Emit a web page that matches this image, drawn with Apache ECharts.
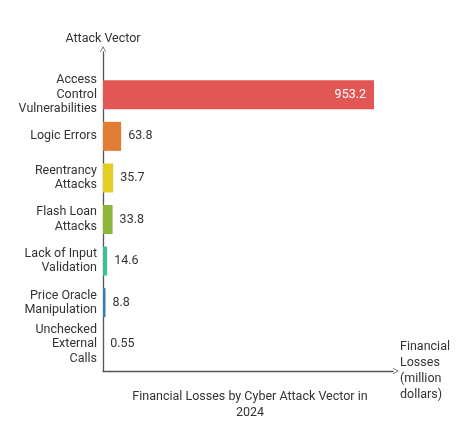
<!DOCTYPE html>
<html>
<head>
<meta charset="utf-8">
<script src="https://cdn.jsdelivr.net/npm/echarts@6/dist/echarts.min.js"></script>
<style>html,body{margin:0;padding:0;background:#fff}#c{width:474px;height:447px}</style>
</head>
<body>
<div id="c"></div>
<script>
const categories = ["Access\nControl\nVulnerabilities", "Logic Errors", "Reentrancy\nAttacks", "Flash Loan\nAttacks", "Lack of Input\nValidation", "Price Oracle\nManipulation", "Unchecked\nExternal\nCalls"];
const losses = [953.2, 63.8, 35.7, 33.8, 14.6, 8.8, 0.55];
const colors = ["#e25656", "#e07d33", "#e2cf22", "#8cb83a", "#3cc28f", "#2f7fb2", "#8e5bb8"];
const xAxisName = "Financial\nLosses\n(million\ndollars)";
const yAxisName = "Attack Vector";
const titleText = "Financial Losses by Cyber Attack Vector in\n2024";

const FONT = "Roboto";
const chevron = "path://M0,10 L5,0 L10,10 L8.8,10 L5,2.4 L1.2,10 Z";

const chart = echarts.init(document.getElementById('c'));
chart.setOption({
  animation: false,
  backgroundColor: '#fff',
  textStyle: { fontFamily: FONT },
  title: {
    text: titleText,
    left: 245, top: 384,
    textAlign: 'center',
    textStyle: { fontFamily: FONT, fontSize: 12.5, fontWeight: 'normal', color: '#333', lineHeight: 16 }
  },
  grid: [
    { left: 103, top: 74, width: 271, height: 291 },
    { left: 103, top: 52, width: 290, height: 319 }
  ],
  xAxis: [
    { gridIndex: 0, type: 'value', min: 0, max: 'dataMax', show: false },
    { gridIndex: 1, type: 'value', min: 0, max: 1,
      axisLine: { show: true, lineStyle: { color: '#555', width: 1.3 }, symbol: ['none', chevron], symbolSize: [9, 6], symbolOffset: [0, 3] },
      axisTick: { show: false }, axisLabel: { show: false }, splitLine: { show: false },
      name: xAxisName, nameLocation: 'end', nameGap: 7,
      nameTextStyle: { fontFamily: FONT, fontSize: 12.5, color: '#333', align: 'left', verticalAlign: 'middle', lineHeight: 16, padding: [2, 0, 0, 0] }
    }
  ],
  yAxis: [
    { gridIndex: 0, type: 'category', data: categories, inverse: true,
      axisLine: { show: false }, axisTick: { show: false }, splitLine: { show: false },
      axisLabel: { fontFamily: FONT, fontSize: 12.5, color: '#333', margin: 6, lineHeight: 14.5, align: 'right' }
    },
    { gridIndex: 1, type: 'value', min: 0, max: 1,
      axisLine: { show: true, lineStyle: { color: '#555', width: 1.3 }, symbol: ['none', chevron], symbolSize: [9, 6], symbolOffset: [0, 3] },
      axisTick: { show: false }, axisLabel: { show: false }, splitLine: { show: false },
      name: yAxisName, nameLocation: 'end', nameGap: 7,
      nameTextStyle: { fontFamily: FONT, fontSize: 12.5, color: '#333', align: 'center', verticalAlign: 'bottom' }
    }
  ],
  series: [{
    type: 'bar',
    xAxisIndex: 0, yAxisIndex: 0,
    barWidth: 29,
    data: losses.map((v, i) => ({
      value: v,
      itemStyle: { color: colors[i] },
      label: i === 0
        ? { show: true, position: 'insideRight', distance: 8, color: '#fff' }
        : { show: true, position: 'right', distance: 7, color: '#333' }
    })),
    label: { show: true, fontFamily: FONT, fontSize: 12.5, formatter: p => String(p.value) }
  }]
});
</script>
</body>
</html>
